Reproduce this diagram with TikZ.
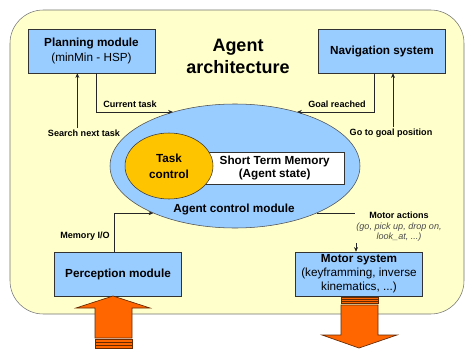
\documentclass[tikz,border=0pt]{standalone}
\usepackage{fontspec}
\setmainfont{Liberation Sans}
\usetikzlibrary{arrows.meta,shapes.geometric,positioning}

\definecolor{bgyel}{RGB}{255,255,204}
\definecolor{modblue}{RGB}{153,204,255}
\definecolor{taskgold}{RGB}{255,196,0}
\definecolor{arrorange}{RGB}{255,102,0}

\begin{document}
\begin{tikzpicture}[x=0.75pt,y=-0.75pt,
  every node/.style={font=\fontsize{8.8}{11.2}\selectfont},
  modbox/.style={draw=black!80,fill=modblue,minimum width=95pt,
                 minimum height=33pt,align=center,inner sep=1pt},
  lbl/.style={font=\fontsize{6.8}{7.9}\selectfont\bfseries,inner sep=1pt},
  arr/.style={-{Stealth[length=3.5pt,width=3pt]},black!85,line width=0.5pt},
  fatarr/.style={draw=black!60!arrorange,fill=arrorange,line width=0.5pt},
]
\useasboundingbox (0,0) rectangle (474,353);
\draw[black!55,fill=bgyel,rounded corners=25pt] (10,10) rectangle (464,314);
\node[font=\fontsize{13.5}{16.5}\selectfont\bfseries,align=center] (ttl) at (238,56) {Agent\\architecture};
\node[modbox] (pl) at (91.5,51) {\textbf{Planning module}\\(minMin - HSP)};
\node[modbox] (nav) at (382,51) {\textbf{Navigation system}};
\node[ellipse,draw=black!70,fill=modblue,minimum width=187.5pt,
      minimum height=93pt,inner sep=0pt] (acm) at (235,166) {};
\node[font=\fontsize{8.8}{11}\selectfont\bfseries] (acmt) at (234,209) {Agent control module};
\node[draw=black!80,fill=white,minimum width=108pt,minimum height=24pt,inner sep=0pt,
      align=center,font=\fontsize{8.8}{9.8}\selectfont\bfseries] (stm) at (272,168)
  {\hspace*{4pt}Short Term Memory\\\hspace*{4pt}(Agent state)};
\node[ellipse,draw=black!80,fill=taskgold,minimum width=66pt,minimum height=49.5pt,
      inner sep=0pt,align=center,font=\fontsize{8.8}{12}\selectfont\bfseries] (tc) at (169,166) {Task\\control};
\node[modbox] (pm) at (118,274) {\textbf{Perception module}};
\node[modbox,font=\fontsize{8.8}{10.5}\selectfont] (ms) at (359,274)
  {\textbf{Motor system}\\(keyframming, inverse\\kinematics, ...)};
\draw[arr] ([xshift=3.4pt]pl.south) |- (acm.139);
\node[lbl] (ct) at (130,104) {Current task};
\draw[arr] ([xshift=-6pt]nav.south) |- (acm.41);
\node[lbl] (gr) at (337,104) {Goal reached};
\node[lbl] (snt) at (84,133) {Search next task};
\draw[arr] ([xshift=-5pt]snt.north) -- ([xshift=-5pt]snt.north |- pl.south);
\node[lbl] (ggp) at (391,133) {Go to goal position};
\draw[arr] ([xshift=1.5pt]ggp.north) -- ([xshift=1.5pt]ggp.north |- nav.south);
\node[lbl] (mio) at (85,236) {Memory I/O};
\draw[arr] ([xshift=-3pt]pm.north) |- (acm.210);
\draw[arr] (acm.-30) -| ([xshift=-2.25pt]ms.north);
\node[lbl,fill=bgyel,align=center] (ma) at (399,227)
  {Motor actions\\{\mdseries\itshape\color{black!70}(go, pick up, drop on,}\\{\mdseries\itshape\color{black!70}look\_at, ...)}};
\draw[fatarr] (113,296) -- (150,308) -- (132,308) -- (132,338) -- (95,338)
  -- (95,308) -- (76,308) -- cycle;
\draw[fatarr] (95,339.5) rectangle (132,348);
\draw[black!60!arrorange] (95,342.3) -- (132,342.3) (95,345.2) -- (132,345.2);
\draw[fatarr] (341,297) rectangle (378,303.5);
\draw[black!60!arrorange] (341,299.2) -- (378,299.2) (341,301.4) -- (378,301.4);
\draw[fatarr] (341,305) -- (378,305) -- (378,335) -- (397,335) -- (359,348)
  -- (322,335) -- (341,335) -- cycle;
\end{tikzpicture}
\end{document}
